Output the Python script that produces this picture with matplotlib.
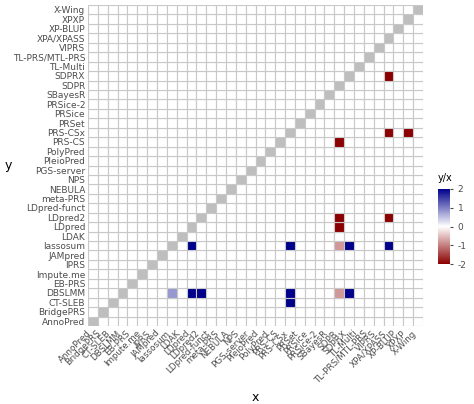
import numpy as np
import matplotlib.pyplot as plt
from matplotlib.colors import LinearSegmentedColormap, Normalize
import matplotlib.cm as cm

plt.rcParams['axes.unicode_minus'] = False

methods = ['AnnoPred', 'BridgePRS', 'CT-SLEB', 'DBSLMM', 'EB-PRS', 'Impute.me', 'IPRS',
           'JAMpred', 'lassosum', 'LDAK', 'LDpred', 'LDpred2', 'LDpred-funct', 'meta-PRS',
           'NEBULA', 'NPS', 'PGS-server', 'PleioPred', 'PolyPred', 'PRS-CS', 'PRS-CSx',
           'PRSet', 'PRSice', 'PRSice-2', 'SBayesR', 'SDPR', 'SDPRX', 'TL-Multi',
           'TL-PRS/MTL-PRS', 'VIPRS', 'XPA/XPASS', 'XP-BLUP', 'XPXP', 'X-Wing']

# (x method, y method, value of y/x)
cell_x = ['LDpred', 'PRS-CSx', 'SDPR', 'SDPRX', 'XPA/XPASS',
          'lassosum', 'LDpred', 'LDpred2', 'PRS-CSx', 'SDPR', 'SDPRX',
          'PRS-CSx', 'SDPR', 'SDPR', 'XPA/XPASS', 'SDPR',
          'XPA/XPASS', 'XPXP', 'XPA/XPASS']
cell_y = ['lassosum', 'lassosum', 'lassosum', 'lassosum', 'lassosum',
          'DBSLMM', 'DBSLMM', 'DBSLMM', 'DBSLMM', 'DBSLMM', 'DBSLMM',
          'CT-SLEB', 'LDpred', 'LDpred2', 'LDpred2', 'PRS-CS',
          'PRS-CSx', 'PRS-CSx', 'SDPRX']
cell_v = [2.0, 2.0, -0.8, 2.0, 2.0,
          0.8, 2.0, 2.0, 2.0, -0.8, 2.0,
          2.0, -2.0, -2.0, -2.0, -2.0,
          -2.0, -2.0, -2.0]

n = len(methods)
cmap = LinearSegmentedColormap.from_list('rwb', ['#8B0000', 'white', '#00008B'])
norm = Normalize(-2, 2)

fig = plt.figure(figsize=(4.74, 4.04), dpi=100)
ax = fig.add_axes([88 / 474, 78 / 404, 335 / 474, 321 / 404])

for i in range(n):
    for j in range(n):
        fc = '#BEBEBE' if i == j else 'white'
        ax.add_patch(plt.Rectangle((i - 0.5, j - 0.5), 1, 1, facecolor=fc,
                                   edgecolor='#C8C8C8', linewidth=0.8))
for xm, ym, v in zip(cell_x, cell_y, cell_v):
    ax.add_patch(plt.Rectangle((methods.index(xm) - 0.5, methods.index(ym) - 0.5), 1, 1,
                               facecolor=cmap(norm(v)), edgecolor='#C8C8C8', linewidth=0.8))

ax.set_xlim(-0.5, n - 0.5)
ax.set_ylim(-0.5, n - 0.5)
ax.set_xticks(range(n))
ax.set_xticklabels(methods, rotation=45, ha='right', fontsize=6.3, color='#4D4D4D')
ax.set_yticks(range(n))
ax.set_yticklabels(methods, fontsize=6.5, color='#4D4D4D')
ax.tick_params(length=0, pad=2)
for s in ax.spines.values():
    s.set_visible(False)
ax.set_xlabel('x', fontsize=9)
ax.set_ylabel('y', fontsize=9, rotation=0, va='center')
ax.yaxis.set_label_coords(-80 / 335, 0.5)

cax = fig.add_axes([438 / 474, 140 / 404, 12 / 474, 75 / 404])
cb = fig.colorbar(cm.ScalarMappable(norm=norm, cmap=cmap), cax=cax, ticks=[-2, -1, 0, 1, 2])
cb.outline.set_visible(False)
cb.ax.tick_params(labelsize=6.5, length=2, colors='#4D4D4D')
cax.set_title('y/x', fontsize=7, loc='left')

fig.savefig('out.png', dpi=100)
